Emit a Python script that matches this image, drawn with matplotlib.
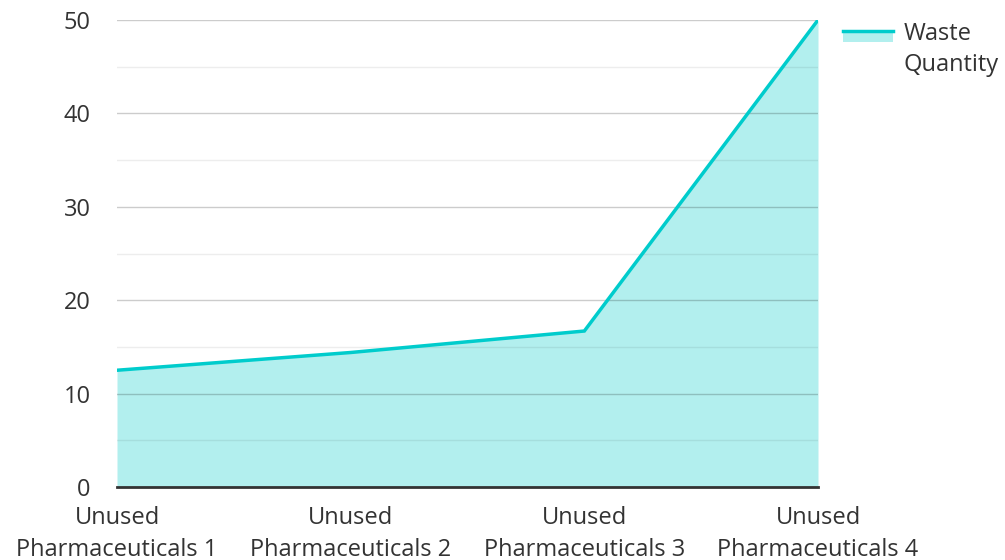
import matplotlib
matplotlib.use("Agg")
import matplotlib.pyplot as plt
from matplotlib.legend_handler import HandlerBase
from matplotlib.patches import Rectangle
from matplotlib.lines import Line2D

categories = ["Unused\nPharmaceuticals 1", "Unused\nPharmaceuticals 2",
              "Unused\nPharmaceuticals 3", "Unused\nPharmaceuticals 4"]
waste_quantity = [12.5, 14.4, 16.7, 50]
series_name = "Waste\nQuantity"
yticks = [0, 10, 20, 30, 40, 50]

line_color = "#00cccc"
fill_color = "#b2efee"
text_color = "#333333"
FS = 17

plt.rcParams['font.family'] = ['Open Sans', 'DejaVu Sans']

fig = plt.figure(figsize=(10.05, 5.6), dpi=100)
ax = fig.add_axes([117/1005, 1-487/560, (818-117)/1005, (487-20)/560])

x = list(range(len(categories)))
ax.fill_between(x, waste_quantity, 0, color=fill_color, lw=0, zorder=1)
ax.plot(x, waste_quantity, color=line_color, lw=2.5, zorder=3, solid_joinstyle='miter')

ax.set_xlim(0, len(categories)-1)
ax.set_ylim(0, 50)
ax.set_yticks(yticks)
ax.set_yticks([5, 15, 25, 35, 45], minor=True)
ax.set_xticks(x)
ax.set_xticklabels(categories, fontsize=FS, color=text_color, linespacing=1.42)
ax.tick_params(axis='y', which='both', length=0, labelsize=FS, labelcolor=text_color, pad=19)
ax.tick_params(axis='x', length=0, pad=14)
ax.grid(axis='y', which='major', color="black", alpha=0.2, lw=1)
ax.grid(axis='y', which='minor', color="black", alpha=0.07, lw=1)
ax.set_axisbelow(False)
for s in ['top', 'right', 'left']:
    ax.spines[s].set_visible(False)
ax.spines['bottom'].set_color(text_color)
ax.spines['bottom'].set_linewidth(2)
ax.spines['bottom'].set_zorder(4)

class AreaHandler(HandlerBase):
    def create_artists(self, legend, orig_handle, xdescent, ydescent, width, height, fontsize, trans):
        yl = -ydescent + height / 2 + 13.5
        r = Rectangle((-xdescent, yl - 7.5), width, 7.5,
                      facecolor=fill_color, edgecolor='none', transform=trans)
        l = Line2D([-xdescent, -xdescent + width], [yl, yl],
                   color=line_color, lw=2.5, transform=trans)
        return [r, l]

handle = Rectangle((0, 0), 1, 1)
leg = fig.legend([handle], [series_name], handler_map={Rectangle: AreaHandler()},
                 loc='upper left', bbox_to_anchor=(843/1005, 1-22/560), frameon=False,
                 fontsize=FS, handlelength=2.12, handletextpad=0.43, labelcolor=text_color,
                 borderpad=0, borderaxespad=0)
for t in leg.get_texts():
    t.set_linespacing(1.38)

fig.savefig("out.png", dpi=100)
